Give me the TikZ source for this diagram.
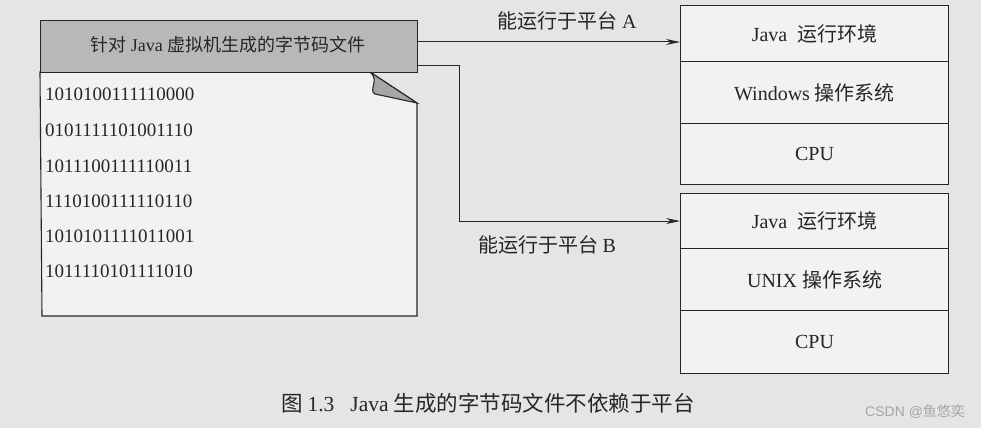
\documentclass[tikz,border=0pt]{standalone}
\usepackage{fontspec}
\setmainfont{Liberation Serif}
\setsansfont{Liberation Sans}
\newfontfamily\cjk{Noto Sans CJK SC}
\usetikzlibrary{arrows.meta}
\begin{document}
\begin{tikzpicture}[x=1pt,y=-1pt,
  line/.style={draw=black!85,line width=1.1pt},
  conn/.style={draw=black!85,line width=1pt,-{Stealth[length=14pt,width=6pt]}},
  lbl/.style={font=\fontsize{20}{22}\selectfont,text=black!85,inner sep=0pt},
  bin/.style={font=\fontsize{19}{21}\selectfont,text=black!85,inner sep=0pt,anchor=west},
  layer/.style={draw=black!85,line width=1.1pt,fill=black!5,minimum width=268pt,inner sep=0pt}]
\fill[black!10] (0,0) rectangle (981,428);
\useasboundingbox (0,0) rectangle (981,428);
% bytecode file body
\draw[line,fill=black!5] (40,72) -- (370,72) -- (417,103) -- (417,316) -- (42,316) -- cycle;
\fill[black!35] (370,72) .. controls (380,80) and (368,90) .. (375,94) -- (417,103) -- cycle;
\draw[line] (370,72) .. controls (380,80) and (368,90) .. (375,94) -- (417,103) -- cycle;
% header
\node[line,fill=black!28,minimum width=377pt,minimum height=52pt,anchor=north west,inner sep=0pt] (hdr) at (40,20) {};
\node[lbl,font=\fontsize{18}{20}\selectfont] (hdrt) at (228,45) {\cjk 针对 \rmfamily Java \cjk 虚拟机生成的字节码文件};
% binary lines
\node[bin] (b1) at (45,94) {1010100111110000};
\node[bin] (b2) at (45,130) {0101111101001110};
\node[bin] (b3) at (45,166) {1011100111110011};
\node[bin] (b4) at (45,201) {1110100111110110};
\node[bin] (b5) at (45,236) {1010101111011001};
\node[bin] (b6) at (45,271) {1011110101111010};
% platform A
\node[layer,minimum height=56pt,anchor=north west] (ja) at (680,5) {};
\node[layer,minimum height=62pt,anchor=north west] (wa) at (680,61) {};
\node[layer,minimum height=61pt,anchor=north west] (ca) at (680,123) {};
\node[lbl] at (ja) {Java~~\cjk 运行环境};
\node[lbl] at (wa) {Windows \cjk 操作系统};
\node[lbl] at (ca) {CPU};
% platform B
\node[layer,minimum height=55pt,anchor=north west] (jb) at (680,193) {};
\node[layer,minimum height=62pt,anchor=north west] (ub) at (680,248) {};
\node[layer,minimum height=63pt,anchor=north west] (cb) at (680,310) {};
\node[lbl] at (jb) {Java~~\cjk 运行环境};
\node[lbl] at (ub) {UNIX \cjk 操作系统};
\node[lbl] at (cb) {CPU};
% connectors
\coordinate (sa) at (417,42);
\coordinate (sb) at (417,65);
\draw[conn] (sa) -- (ja.west |- sa);
\draw[conn] (sb) -- (459,65) |- (jb.west);
\node[lbl] (la) at (567,21) {\cjk 能运行于平台 \rmfamily A};
\node[lbl] (lb) at (547,245) {\cjk 能运行于平台 \rmfamily B};
% caption
\node[lbl,font=\fontsize{21.5}{23}\selectfont,anchor=west] (cap) at (281,403) {\cjk 图 \rmfamily 1.3\hspace{16pt}Java \cjk 生成的字节码文件不依赖于平台};
\node[font=\fontsize{14}{16}\selectfont,text=black!35,inner sep=0pt,anchor=west] (wm) at (865,411) {\sffamily CSDN @\cjk 鱼悠奕};
\end{tikzpicture}
\end{document}
